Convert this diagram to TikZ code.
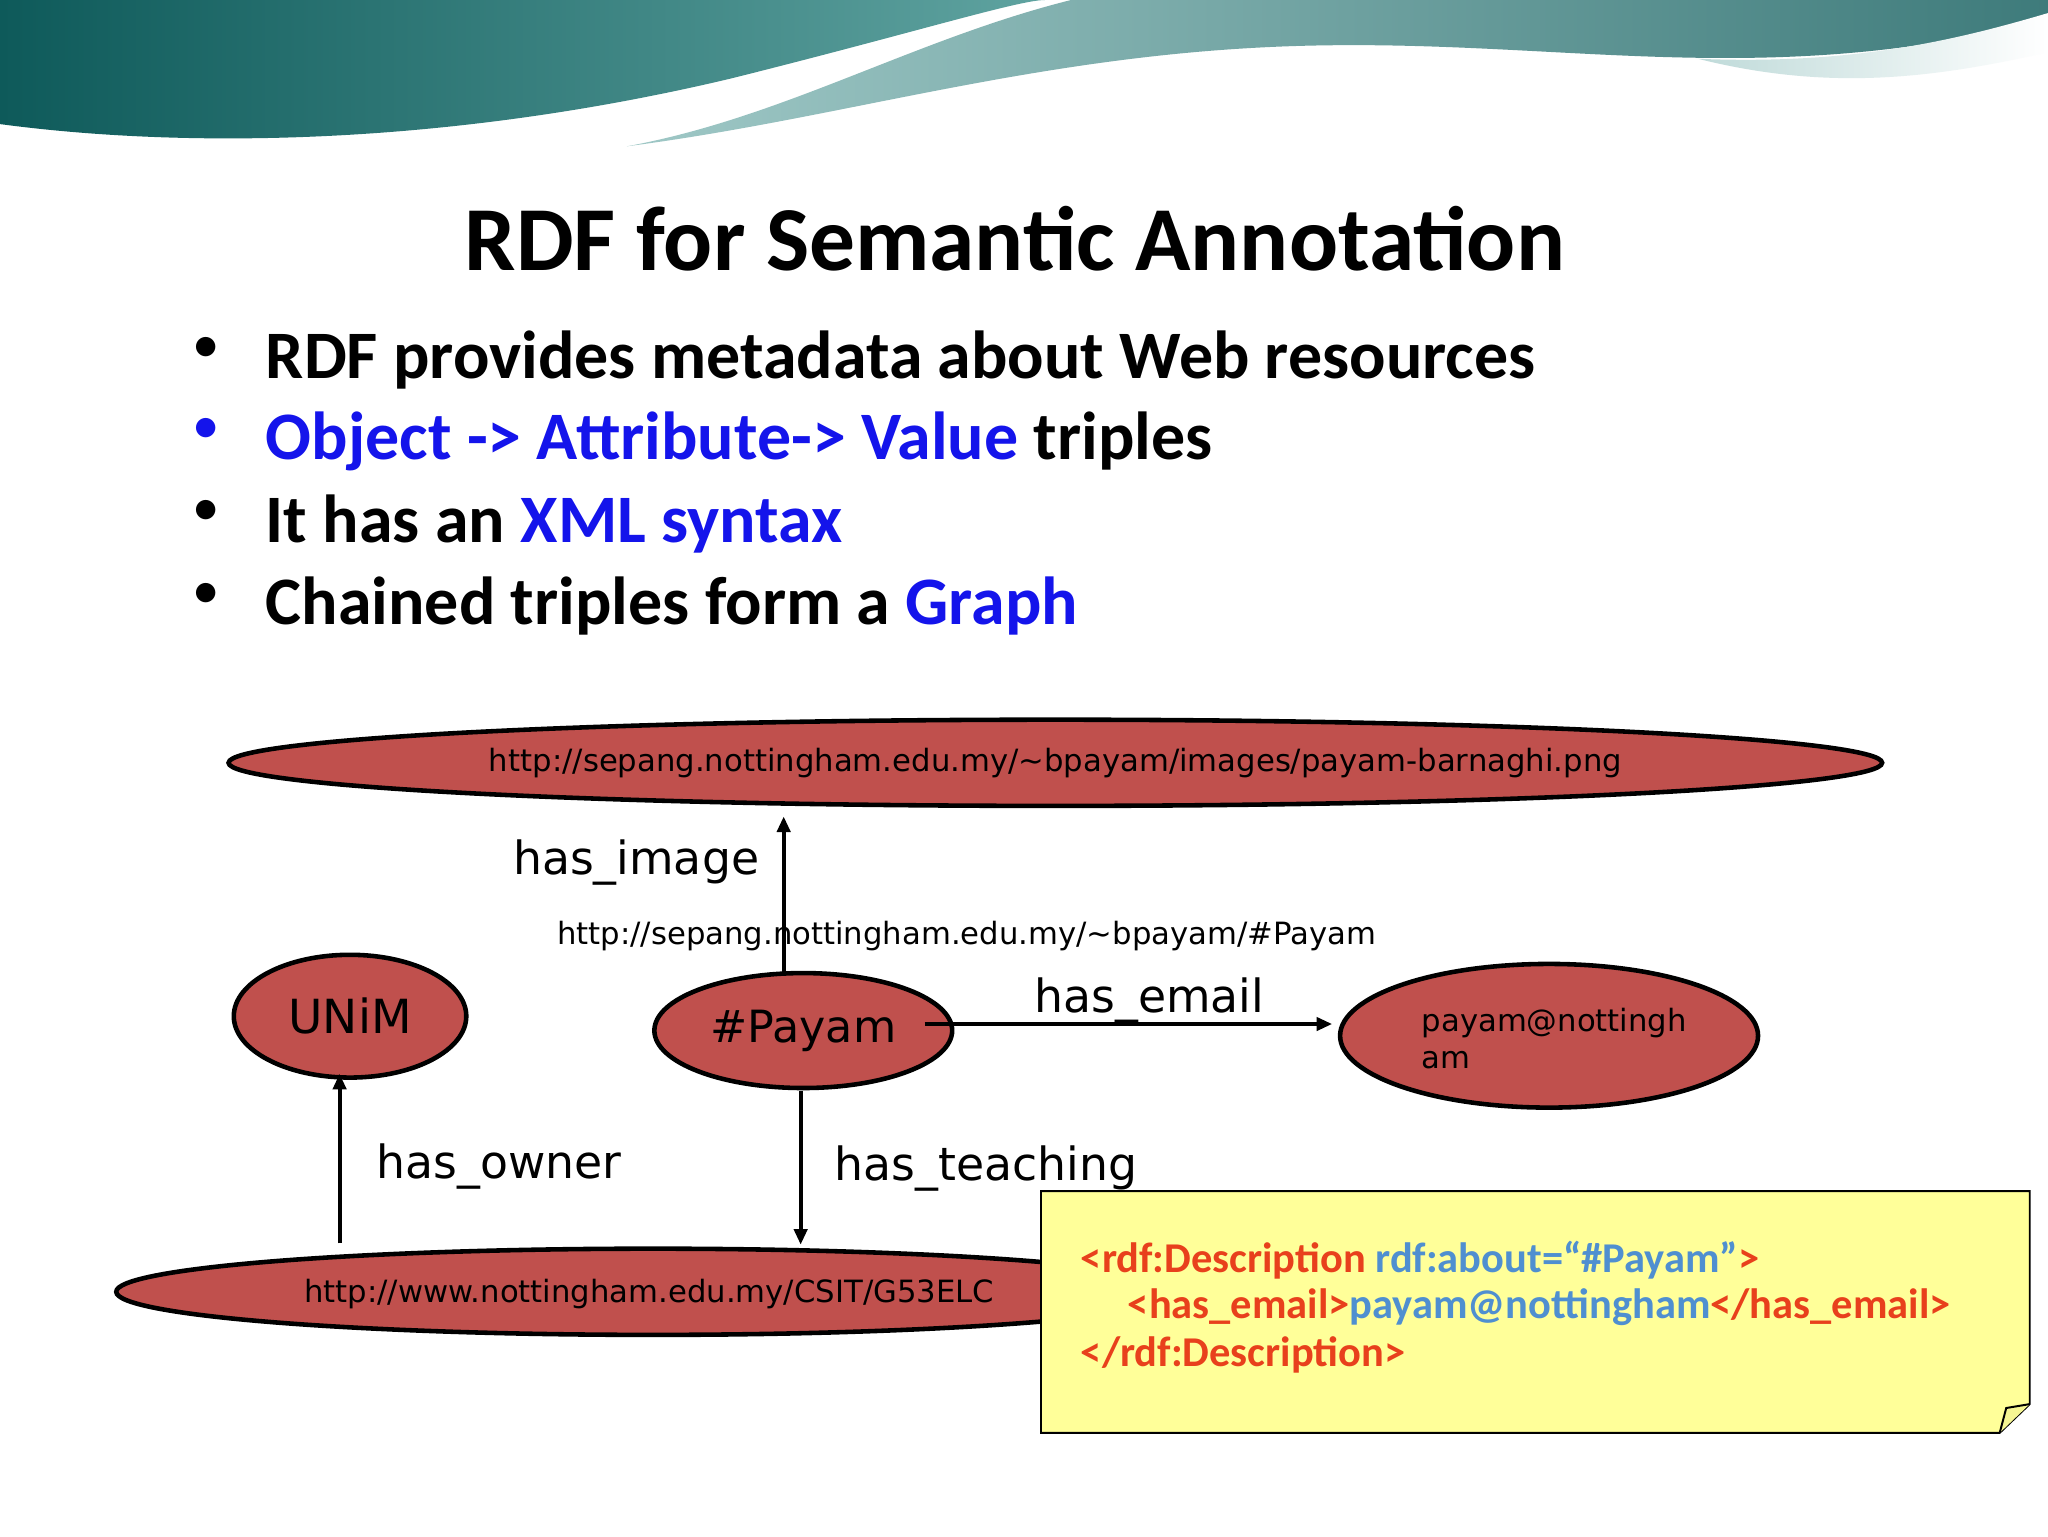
\documentclass[tikz,border=0pt]{standalone}
\usepackage{fontspec}
\setmainfont{Carlito}
\newfontfamily\verd{DejaVu Sans}
\usetikzlibrary{arrows.meta,shapes.geometric}
\definecolor{nodered}{HTML}{C0504D}
\definecolor{kwblue}{RGB}{20,20,235}
\definecolor{codered}{HTML}{E8401C}
\definecolor{codeblue}{HTML}{4F8FD0}
\definecolor{noteyellow}{HTML}{FFFF99}
\definecolor{teal1}{HTML}{0E5A5A}
\definecolor{teal2}{HTML}{5FA3A0}
\begin{document}
\begin{tikzpicture}[x=1pt,y=-1pt,
  ell/.style={ellipse,draw=black,line width=3.5pt,fill=nodered,inner sep=0pt},
  url/.style={font=\verd\fontsize{23.5}{28}\selectfont},
  lbl/.style={font=\verd\fontsize{35}{40}\selectfont},
  conn/.style={line width=3pt,-{Triangle[length=12pt,width=10pt]}},
  bul/.style={anchor=west,font=\fontsize{52}{58}\selectfont\bfseries},
  code/.style={anchor=west,font=\fontsize{32.5}{36}\selectfont\bfseries}]
\useasboundingbox (0,0) rectangle (1568,1176);
\fill[white] (0,0) rectangle (1568,1176);
% banner
\shade[left color=teal1,right color=teal2] (0,0) -- (0,95) .. controls (150,115) and (350,110) .. (560,60) .. controls (700,25) and (780,0) .. (800,0) -- cycle;
\shade[left color=teal2!60,right color=teal1!80] (480,112) .. controls (650,90) and (800,40) .. (1000,35) .. controls (1200,30) and (1350,70) .. (1568,15) -- (1568,0) -- (820,0) .. controls (700,30) and (600,90) .. (480,112) -- cycle;
\shade[left color=teal2!40,right color=white] (1300,45) .. controls (1420,50) and (1500,30) .. (1568,10) -- (1568,40) .. controls (1480,60) and (1400,70) .. (1300,45) -- cycle;
% title
\node[font=\fontsize{70}{78}\selectfont\bfseries] (title) at (777,183) {RDF for Semantic Annotation};
% bullets
\foreach \y/\c in {276/black,338/kwblue,401/black,464/black}
  \node[font=\fontsize{42}{46}\selectfont,text=\c] at (158,\y-8) {•};
\node[bul] (b1) at (200,276) {RDF provides metadata about Web resources};
\node[bul] (b2) at (200,338) {\textcolor{kwblue}{Object -> Attribute-> Value} triples};
\node[bul] (b3) at (200,401) {It has an \textcolor{kwblue}{XML syntax}};
\node[bul] (b4) at (200,464) {Chained triples form a \textcolor{kwblue}{Graph}};
% nodes
\node[ell,minimum width=1266pt,minimum height=66pt] (img) at (808,584) {};
\node[url] at (img.center) {http://sepang.nottingham.edu.my/\char"223C bpayam/images/payam-barnaghi.png};
\node[ell,minimum width=178pt,minimum height=94pt,font=\verd\fontsize{36}{40}\selectfont] (unim) at (268,778) {UNiM};
\node[ell,minimum width=228pt,minimum height=88pt,font=\verd\fontsize{34}{38}\selectfont] (payam) at (615,789) {\#Payam};
\node[ell,minimum width=320pt,minimum height=110pt] (mail) at (1186,793) {};
\node[url,align=left,anchor=west] at (1085,795) {payam@nottingh\\am};
\node[ell,minimum width=822pt,minimum height=66pt] (course) at (500,989) {};
\node[url] at (497,991) {http://www.nottingham.edu.my/CSIT/G53ELC};
\node[url] (purl) at (740,717) {http://sepang.nottingham.edu.my/\char"223C bpayam/\#Payam};
% connectors
\coordinate (a1) at (600,745); \coordinate (a2) at (600,625);
\draw[conn] (a1) -- (a2);
\coordinate (e1) at (708,784); \coordinate (e2) at (1020,784);
\draw[conn] (e1) -- (e2);
\coordinate (t1) at (613,835); \coordinate (t2) at (613,953);
\draw[conn] (t1) -- (t2);
\coordinate (o1) at (260,952); \coordinate (o2) at (260,822);
\draw[conn] (o1) -- (o2);
\node[lbl] (limg) at (487,660) {has\_image};
\node[lbl] (lmail) at (880,766) {has\_email};
\node[lbl] (lteach) at (755,895) {has\_teaching};
\node[lbl] (lown) at (382,893) {has\_owner};
% note
\draw[line width=1.5pt,fill=noteyellow] (797,912) -- (1554,912) -- (1554,1075) -- (1531,1097) -- (797,1097) -- cycle;
\draw[line width=1.5pt,fill=noteyellow!80!black!20!noteyellow] (1531,1097) -- (1536,1078) -- (1554,1075);
\node[code] (c1) at (824,965) {\textcolor{codered}{<rdf:Description} \textcolor{codeblue}{rdf:about=“\#Payam”}\textcolor{codered}{>}};
\node[code] (c2) at (860,1001) {\textcolor{codered}{<has\_email>}\textcolor{codeblue}{payam@nottingham}\textcolor{codered}{</has\_email>}};
\node[code] (c3) at (824,1037) {\textcolor{codered}{</rdf:Description>}};
\end{tikzpicture}
\end{document}
